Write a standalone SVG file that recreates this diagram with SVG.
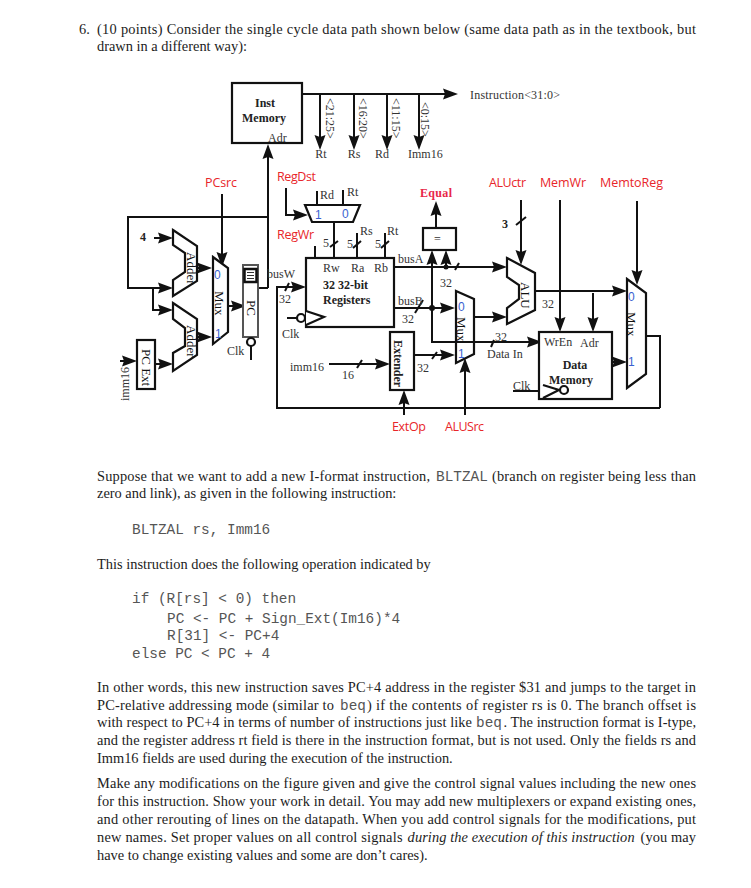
<svg xmlns="http://www.w3.org/2000/svg" width="751" height="888" viewBox="0 0 751 888">
<style>
.t{font-family:"Liberation Serif",serif;font-size:14.4px;fill:#1c1c1c}
.m{font-family:"Liberation Mono",monospace;font-size:14.4px;fill:#555}
.l{font-family:"Liberation Serif",serif;font-size:12px;fill:#333}
.v{font-family:"Liberation Serif",serif;font-size:13px;fill:#111}
.b{font-family:"Liberation Serif",serif;font-size:12px;font-weight:bold;fill:#222}
.r{font-family:"Open Sans",sans-serif;font-size:12.5px;fill:#e8262a}
.n{font-family:"Liberation Sans",sans-serif;font-size:12px;fill:#3a5fd0}
.s{fill:#fff;stroke:#111;stroke-width:2.2}
.c{fill:none;stroke:#111;stroke-width:2}
.a{marker-end:url(#ah)}
</style>
<defs>
<marker id="ah" markerUnits="userSpaceOnUse" markerWidth="18" markerHeight="14" refX="12" refY="6" orient="auto" viewBox="0 0 18 12"><path d="M0,0.5 L15,6 L0,11.5 L2,6 z" fill="#111"/></marker>
</defs>
<rect width="751" height="888" fill="#fff"/>

<g id="connectors">
<path class="c a" d="M302,94 H455"/>
<path class="c a" d="M320,94 V147"/><path class="c a" d="M354,94 V147"/><path class="c a" d="M387,94 V147"/><path class="c a" d="M419,94 V147"/>
<path class="c a" d="M268,288 V147"/>
<path class="c" d="M258,288 H268"/>
<path class="c a" d="M268,217 H128 V288 H170"/>
<path class="c a" d="M153,288 V310 H170"/>
<path class="c a" d="M222,194 V264"/>
<path class="c a" d="M154,238 H170"/>
<path class="c a" d="M197,268 H209"/>
<path class="c a" d="M197,337 H209"/>
<path class="c a" d="M228,306 H243"/>
<path class="c a" d="M120,361 H134"/>
<path class="c a" d="M155,364 H170"/>
<path class="c" d="M251,346 V360"/>
<path class="c a" d="M286,188 V215 H305"/>
<path class="c" d="M317,191 V205"/><path class="c" d="M343,190 V205"/>
<path class="c" d="M334,222 V258"/><path class="c" d="M357,233 V258"/><path class="c" d="M385,233 V258"/><path class="c" d="M315,246 V258"/>
<path class="c" d="M330,247 L338,241"/><path class="c" d="M353,248 L361,241"/><path class="c" d="M381,248 L389,241"/>
<path class="c a" d="M660,408 H277 V287 H303"/>
<path class="c" d="M285,291 L289,283"/>
<path class="c" d="M287,318 H297"/>
<path class="c a" d="M394,267 H504"/>
<path class="c a" d="M446,267 V253"/>
<circle cx="446" cy="267" r="2.5" fill="#111"/>
<path class="c" d="M455,270 L459,263"/>
<path class="c a" d="M394,308 H452"/>
<path class="c" d="M415,313 L423,300"/>
<path class="c a" d="M432,308 V253"/>
<circle cx="432" cy="308" r="3" fill="#111"/>
<path class="c a" d="M432,308 V342 H539"/>
<path class="c" d="M491,347 L494,340"/>
<path class="c a" d="M436,228 V204"/>
<path class="c a" d="M474,317 H504"/>
<path class="c a" d="M414,355 H452"/>
<path class="c" d="M432,359 L437,352"/>
<path class="c a" d="M329,364 H387"/>
<path class="c" d="M357,368 L362,360"/>
<path class="c a" d="M404,415 V393"/>
<path class="c a" d="M465,415 V361"/>
<path class="c a" d="M521,200 V262"/>
<path class="c" d="M516,225 L526,217"/>
<path class="c a" d="M560,200 V329"/>
<path class="c a" d="M637,201 V282"/>
<path class="c a" d="M535,291 H624"/>
<path class="c a" d="M593,293 V329"/>
<path class="c a" d="M612,362 H624"/>
<path class="c" d="M646,336 H660 V408"/>
<path class="c" d="M513,391 H543"/>
</g>

<g id="inst-memory">
<rect class="s" x="232" y="83" width="70" height="60"/>
<text class="b" x="265" y="107" text-anchor="middle">Inst</text>
<text class="b" x="264" y="122" text-anchor="middle">Memory</text>
<text class="l" x="268" y="142">Adr</text>
</g>

<g id="instruction-fields">
<text class="l" transform="translate(326,98) rotate(90)">&lt;21:25&gt;</text>
<text class="l" transform="translate(359,98) rotate(90)">&lt;16:20&gt;</text>
<text class="l" transform="translate(392,98) rotate(90)">&lt;11:15&gt;</text>
<text class="l" transform="translate(421,102) rotate(90)">&lt;0:15&gt;</text>
<text class="l" x="321" y="158" text-anchor="middle">Rt</text>
<text class="l" x="354" y="158" text-anchor="middle">Rs</text>
<text class="l" x="382" y="158" text-anchor="middle">Rd</text>
<text class="l" x="408" y="158">Imm16</text>
<text class="l" x="470" y="99" textLength="90">Instruction&lt;31:0&gt;</text>
</g>

<g id="regdst-mux">
<path class="s" d="M305,205 H360 L353,222 H312 z"/>
<text class="n" x="315" y="219">1</text>
<text class="n" x="342" y="218">0</text>
<text class="l" x="320" y="199">Rd</text>
<text class="l" x="347" y="196">Rt</text>
</g>

<g id="registers">
<rect class="s" x="306" y="258" width="88" height="69"/>
<path class="s" d="M306,311 L324,317 L306,325"/>
<circle class="s" cx="301" cy="318" r="4"/>
<text class="l" x="323" y="272">Rw</text>
<text class="l" x="351" y="272">Ra</text>
<text class="l" x="374" y="272">Rb</text>
<text class="b" x="323" y="289">32 32-bit</text>
<text class="b" x="323" y="304">Registers</text>
</g>

<g id="equal">
<rect class="s" x="423" y="228" width="33" height="22"/>
<text class="l" x="434" y="243">=</text>
</g>

<g id="alu">
<path class="s" d="M507,258 L535,273 V310 L507,324 V308 L519,299 V285 L507,277 z"/>
<text class="v" transform="translate(521,282) rotate(90)">ALU</text>
</g>

<g id="alusrc-mux">
<path class="s" d="M456,291 L474,299 V354 L456,363 z" fill-opacity="0"/>
<text class="v" transform="translate(457,317) rotate(90)">Mux</text>
<text class="n" x="458" y="311">0</text>
<text class="n" x="458" y="358">1</text>
</g>

<g id="extender">
<rect class="s" x="390" y="332" width="24" height="58"/>
<text class="b" transform="translate(394,340) rotate(90)" textLength="47">Extender</text>
</g>

<g id="data-memory">
<rect class="s" x="539" y="332" width="73" height="67"/>
<path class="s" d="M543,385 L559,390 L543,398" fill="none"/>
<circle class="s" cx="564" cy="390" r="4"/>
<text class="l" x="544" y="346">WrEn</text>
<text class="l" x="580" y="347">Adr</text>
<text class="b" x="575" y="369" text-anchor="middle">Data</text>
<text class="b" x="571" y="384" text-anchor="middle">Memory</text>
<text class="l" x="513" y="390">Clk</text>
</g>

<g id="memtoreg-mux">
<path class="s" d="M627,279 L646,293 V374 L627,388 z"/>
<text class="v" transform="translate(627,312) rotate(90)">Mux</text>
<text class="n" x="628" y="301">0</text>
<text class="n" x="628" y="366">1</text>
</g>

<g id="pc">
<rect x="243" y="265" width="15" height="72" fill="#fff" stroke="#555" stroke-width="2"/>
<rect x="244.500" y="269" width="12" height="13" fill="#fff" stroke="#111" stroke-width="2.500"/>
<path d="M247,272.500 H254 M247,275.500 H254 M247,278.500 H254" stroke="#333" stroke-width="1"/>
<text class="v" transform="translate(247,300) rotate(90)">PC</text>
<circle class="s" cx="251" cy="342" r="4"/>
<text class="l" x="227" y="355">Clk</text>
</g>

<g id="pc-mux">
<path class="s" d="M213,257 L228,268 V332 L213,344 z"/>
<text class="v" transform="translate(215,291) rotate(90)">Mux</text>
<text class="n" x="214" y="279">0</text>
<text class="n" x="215" y="338">1</text>
</g>

<g id="adder-top">
<path class="s" d="M173,230 L197,246 V281 L173,296 V280 L185,272 V253 L173,245 z"/>
<text class="v" transform="translate(187,252) rotate(90)">Adder</text>
</g>

<g id="adder-bottom">
<path class="s" d="M173,303 L197,319 V355 L173,371 V353 L185,346 V328 L173,319 z"/>
<text class="v" transform="translate(187,325) rotate(90)">Adder</text>
</g>

<g id="pc-ext">
<rect class="s" x="137" y="340" width="18" height="49"/>
<text class="v" transform="translate(142,349) rotate(90)">PC Ext</text>
</g>

<g id="signal-labels">
<text class="r" x="205" y="187" textLength="32">PCsrc</text>
<text class="r" x="277" y="181" textLength="39">RegDst</text>
<text class="r" x="277" y="239" textLength="37">RegWr</text>
<text class="r" x="489" y="187" textLength="37">ALUctr</text>
<text class="r" x="540" y="187" textLength="46">MemWr</text>
<text class="r" x="600" y="187" textLength="63">MemtoReg</text>
<text class="r" x="392" y="431" textLength="34">ExtOp</text>
<text class="r" x="445" y="431" textLength="39">ALUSrc</text>
<text class="b" x="420" y="197" textLength="32" style="fill:#e8264a">Equal</text>
<text class="b" x="140" y="241">4</text>
<text class="b" x="502" y="228">3</text>
<text class="l" x="323" y="247">5</text>
<text class="l" x="347" y="248">5</text>
<text class="l" x="375" y="248">5</text>
<text class="l" x="360" y="235">Rs</text>
<text class="l" x="387" y="235">Rt</text>
<text class="l" x="267" y="278">busW</text>
<text class="l" x="279" y="303">32</text>
<text class="l" x="282" y="338">Clk</text>
<text class="l" x="398" y="263">busA</text>
<text class="l" x="398" y="305">busB</text>
<text class="l" x="440" y="287">32</text>
<text class="l" x="402" y="323">32</text>
<text class="l" x="417" y="372">32</text>
<text class="l" x="290" y="371">imm16</text>
<text class="l" x="342" y="379">16</text>
<text class="l" x="542" y="308">32</text>
<text class="l" x="495" y="341">32</text>
<text class="l" x="487" y="358">Data In</text>
<text class="l" transform="translate(129,401) rotate(-90)">imm16</text>
</g>

<g id="page-text">
<text class="t" x="79" y="34">6.</text>
<text class="t" x="97" y="34" textLength="599">(10 points) Consider the single cycle data path shown below (same data path as in the textbook, but</text>
<text class="t" x="97" y="51">drawn in a different way):</text>
<text class="t" x="97" y="481" textLength="333">Suppose that we want to add a new I-format instruction,</text>
<text class="m" x="436" y="481">BLTZAL</text>
<text class="t" x="492" y="481" textLength="204">(branch on register being less than</text>
<text class="t" x="97" y="498">zero and link), as given in the following instruction:</text>
<text class="m" x="132" y="534">BLTZAL rs, Imm16</text>
<text class="t" x="97" y="569">This instruction does the following operation indicated by</text>
<text class="m" x="132" y="603" xml:space="preserve">if (R[rs] &lt; 0) then</text>
<text class="m" x="167" y="623" xml:space="preserve">PC &lt;- PC + Sign_Ext(Im16)*4</text>
<text class="m" x="167" y="640" xml:space="preserve">R[31] &lt;- PC+4</text>
<text class="m" x="132" y="658" xml:space="preserve">else PC &lt; PC + 4</text>
<text class="t" x="97" y="692" textLength="599">In other words, this new instruction saves PC+4 address in the register $31 and jumps to the target in</text>
<text class="t" x="97" y="710" textLength="237">PC-relative addressing mode (similar to</text>
<text class="m" x="340" y="710">beq</text>
<text class="t" x="367" y="710" textLength="329">) if the contents of register rs is 0.  The branch offset is</text>
<text class="t" x="97" y="727" textLength="375">with respect to PC+4 in terms of number of instructions just like</text>
<text class="m" x="476" y="727">beq</text>
<text class="t" x="503.500" y="727" textLength="192.500">. The instruction format is I-type,</text>
<text class="t" x="97" y="745" textLength="599">and the register address rt field is there in the instruction format, but is not used. Only the fields rs and</text>
<text class="t" x="97" y="763">Imm16 fields are used during the execution of the instruction.</text>
<text class="t" x="97" y="788" textLength="599">Make any modifications on the figure given and give the control signal values including the new ones</text>
<text class="t" x="97" y="806" textLength="599">for this instruction. Show your work in detail. You may add new multiplexers or expand existing ones,</text>
<text class="t" x="97" y="824" textLength="599">and other rerouting of lines on the datapath. When you add control signals for the modifications, put</text>
<text class="t" x="97" y="842" textLength="305.500">new names. Set proper values on all control signals</text>
<text class="t" x="407.600" y="842" textLength="227" font-style="italic">during the execution of this instruction</text>
<text class="t" x="640.600" y="842" textLength="55.400">(you may</text>
<text class="t" x="97" y="860">have to change existing values and some are don’t cares).</text>
</g>
</svg>
